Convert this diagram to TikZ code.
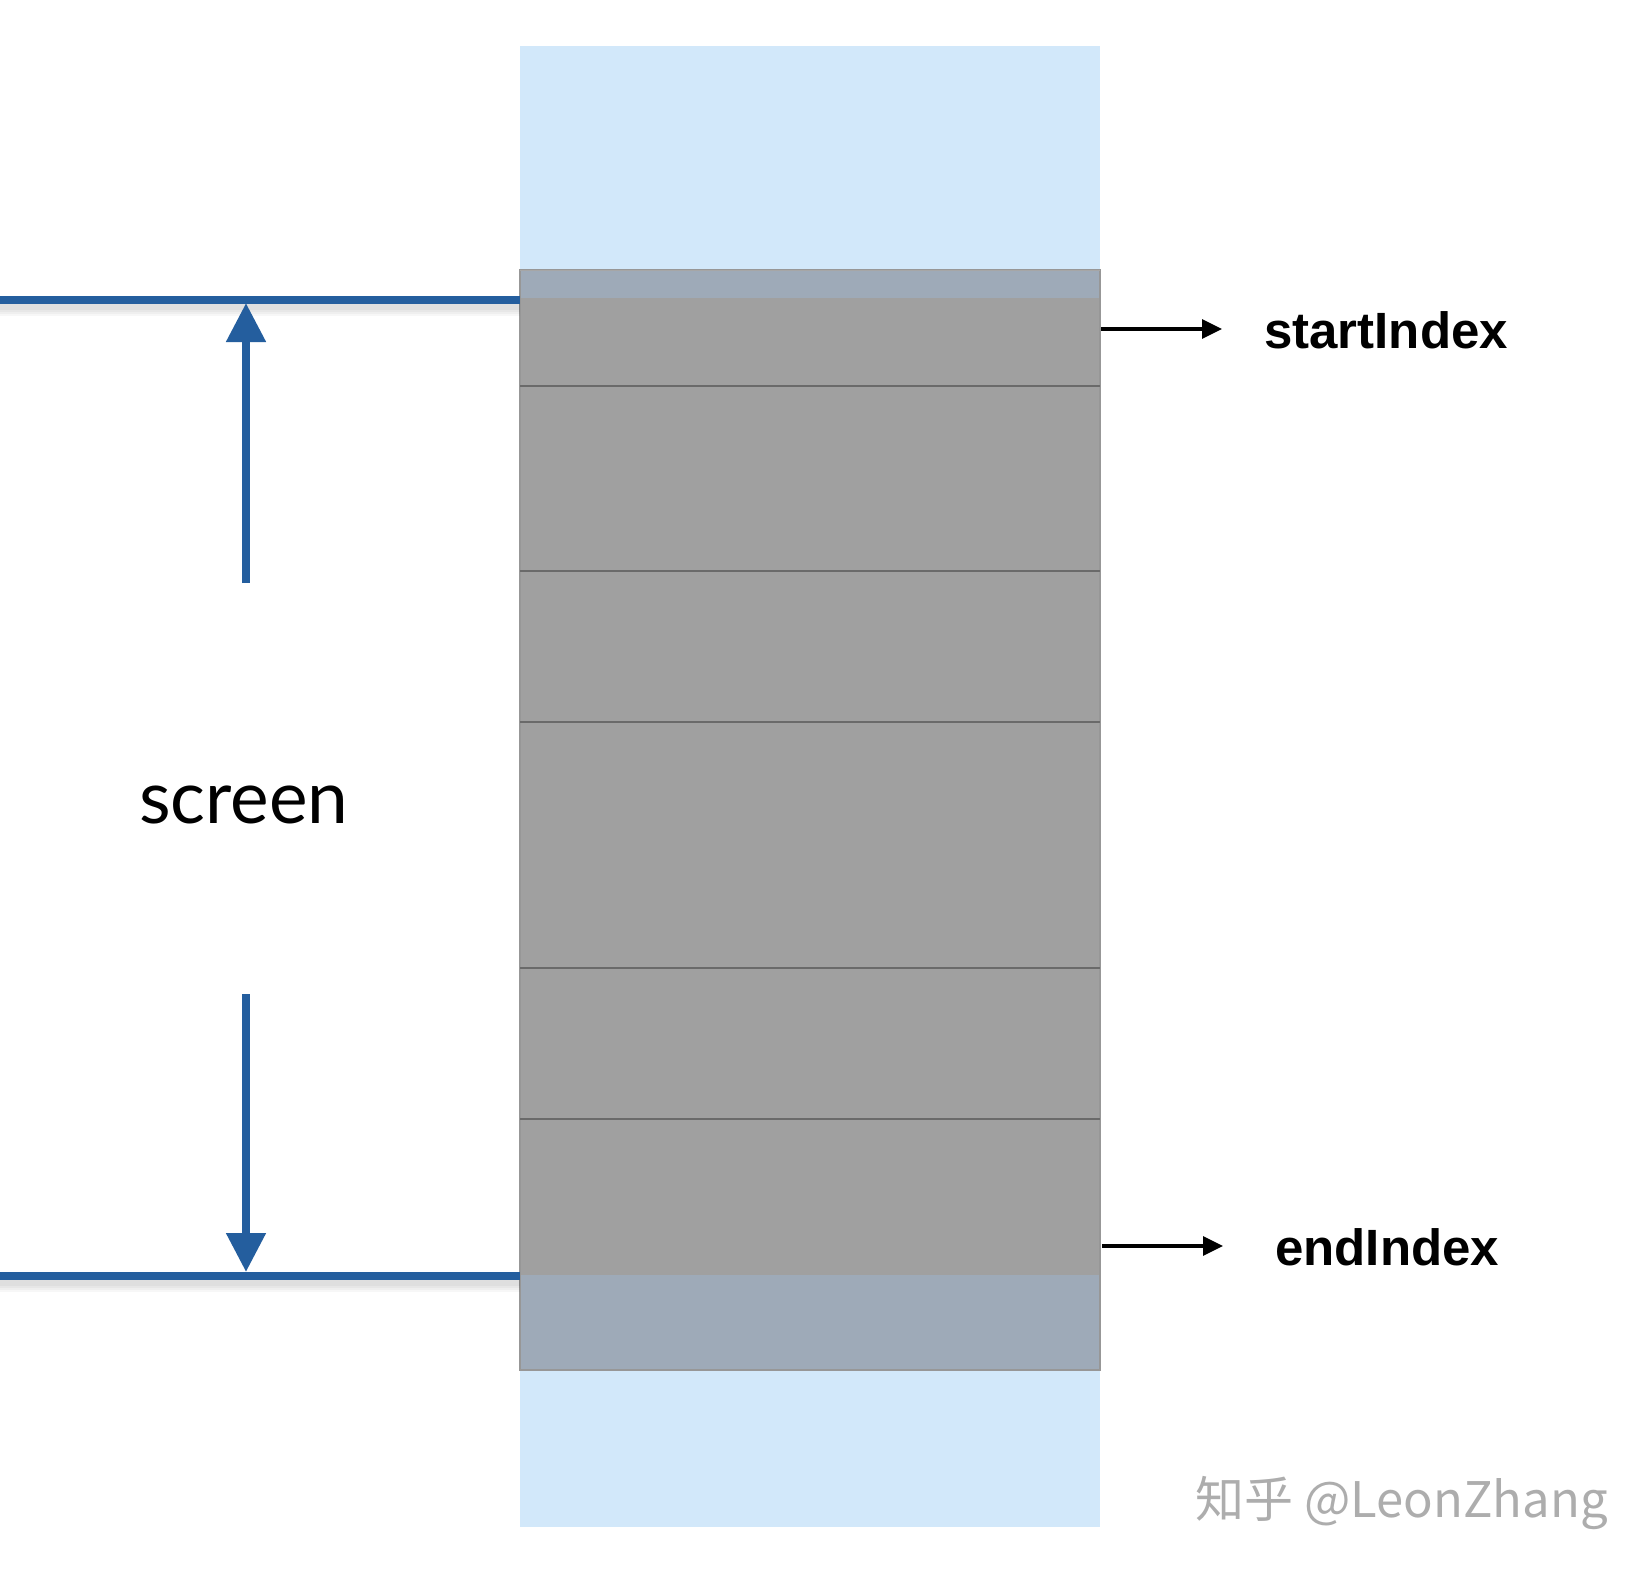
\documentclass[tikz,border=0pt]{standalone}
\usepackage{fontspec}
\usetikzlibrary{arrows.meta}
\newfontfamily\labfont{Liberation Sans}
\newfontfamily\scrfont{Lato}
\newfontfamily\cjkfont{Noto Sans CJK SC}
\definecolor{lightblue}{HTML}{D2E8FA}
\definecolor{bandblue}{HTML}{9EAAB8}
\definecolor{cellgray}{HTML}{A0A0A0}
\definecolor{rowline}{HTML}{6A6A6A}
\definecolor{markblue}{HTML}{245E9E}
\definecolor{wmgray}{HTML}{ADADAD}
\tikzset{
  region/.style={fill=#1, draw=none},
  rowsep/.style={draw=rowline, line width=2pt},
  blueline/.style={draw=markblue, line width=7.5pt},
  bluearrow/.style={draw=markblue, line width=8pt, -{Triangle[length=39pt,width=38pt]}},
  shadowline/.style={draw=black, opacity=0.03, line width=#1},
  pointer/.style={draw=black, line width=3.2pt, -{Triangle[length=20pt,width=19pt]}},
  idxlabel/.style={font=\labfont\bfseries\fontsize{51}{60}\selectfont, inner sep=0pt, anchor=base west},
}
\begin{document}
\begin{tikzpicture}[x=1pt,y=-1pt]
\useasboundingbox[fill=white] (0,0) rectangle (1644,1574);
% column regions
\fill[region=lightblue] (520,46) rectangle (1100,270);
\fill[region=bandblue] (520,270) rectangle (1100,298);
\fill[region=cellgray] (520,298) rectangle (1100,1275);
\fill[region=bandblue] (520,1275) rectangle (1100,1370);
\fill[region=lightblue] (520,1370) rectangle (1100,1527);
\draw[draw=rowline!70, line width=1.5pt] (520,270) rectangle (1100,1370);
\draw[draw=rowline!60, line width=1pt] (520,270) -- (1100,270);
% row separators
\foreach \yy in {386,571,722,968,1119} {
  \draw[rowsep] (520,\yy) -- (1100,\yy);
}
% coordinates
\coordinate (topL) at (0,300);
\coordinate (topR) at (520,300);
\coordinate (botL) at (0,1276);
\coordinate (botR) at (520,1276);
\coordinate (upS) at (246,583);
\coordinate (upT) at (246,303);
\coordinate (dnS) at (246,994);
\coordinate (dnT) at (246,1272);
% soft shadows
\foreach \w in {8,12,16,20} {
  \draw[shadowline=\w pt] ([yshift=-6pt]topL) -- ([yshift=-6pt]topR);
  \draw[shadowline=\w pt] ([yshift=-6pt]botL) -- ([yshift=-6pt]botR);
}
% screen markers
\draw[blueline] (topL) -- (topR);
\draw[blueline] (botL) -- (botR);
\draw[bluearrow] (upS) -- (upT);
\draw[bluearrow] (dnS) -- (dnT);
\node[font=\scrfont\fontsize{73}{80}\selectfont, inner sep=0pt, anchor=base west] (screen) at (139,823) {screen};
% index labels
\node[idxlabel] (startlbl) at (1264,348) {startIndex};
\node[idxlabel] (endlbl) at (1275,1265) {endIndex};
\coordinate (sA) at (1101,329);
\coordinate (sB) at (1222,329);
\coordinate (eA) at (1102,1246);
\coordinate (eB) at (1223,1246);
\draw[pointer] (sA) -- (sB);
\draw[pointer] (eA) -- (eB);
% watermark
\node[font=\cjkfont\fontsize{49}{54}\selectfont, text=wmgray, inner sep=0pt, anchor=base west] (wm) at (1195,1517) {知乎 @LeonZhang};
\end{tikzpicture}
\end{document}
